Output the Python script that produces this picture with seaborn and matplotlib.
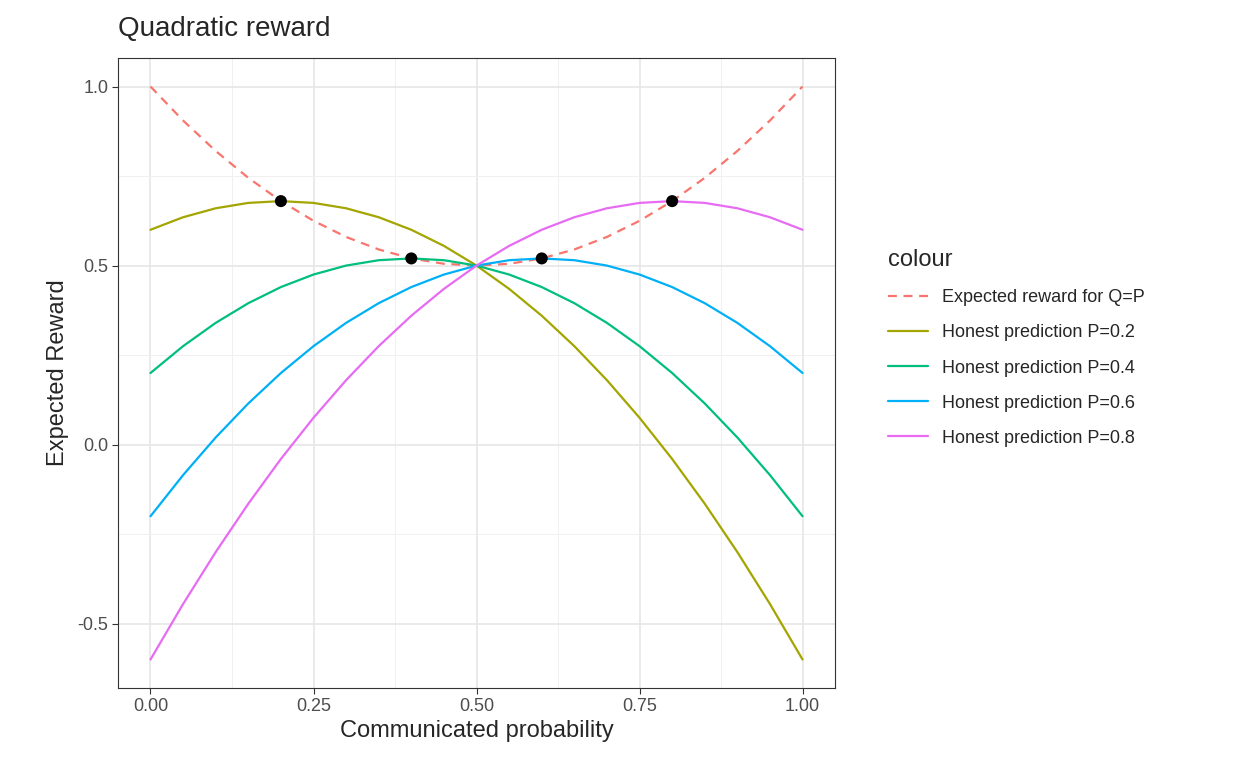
import matplotlib
matplotlib.use("Agg")
import matplotlib.pyplot as plt
import seaborn as sns
import pandas as pd
from matplotlib.lines import Line2D

q = [0, .05, .1, .15, .2, .25, .3, .35, .4, .45, .5, .55, .6, .65, .7, .75, .8, .85, .9, .95, 1]
diag = [1, .905, .82, .745, .68, .625, .58, .545, .52, .505, .5, .505, .52, .545, .58, .625, .68, .745, .82, .905, 1]
p02 = [.6, .635, .66, .675, .68, .675, .66, .635, .6, .555, .5, .435, .36, .275, .18, .075, -.04, -.165, -.3, -.445, -.6]
p04 = [.2, .275, .34, .395, .44, .475, .5, .515, .52, .515, .5, .475, .44, .395, .34, .275, .2, .115, .02, -.085, -.2]
p06 = [-.2, -.085, .02, .115, .2, .275, .34, .395, .44, .475, .5, .515, .52, .515, .5, .475, .44, .395, .34, .275, .2]
p08 = [-.6, -.445, -.3, -.165, -.04, .075, .18, .275, .36, .435, .5, .555, .6, .635, .66, .675, .68, .675, .66, .635, .6]
pts_x = [0.2, 0.4, 0.6, 0.8]
pts_y = [0.68, 0.52, 0.52, 0.68]

names = ["Expected reward for Q=P", "Honest prediction P=0.2", "Honest prediction P=0.4",
         "Honest prediction P=0.6", "Honest prediction P=0.8"]
colors = ["#F8766D", "#A3A500", "#00BF7D", "#00B0F6", "#E76BF3"]

rows = []
for n, ys in zip(names, [diag, p02, p04, p06, p08]):
    for x, y in zip(q, ys):
        rows.append((x, y, n))
df = pd.DataFrame(rows, columns=["x", "y", "series"])

sns.set_style("white", {"xtick.bottom": True, "ytick.left": True})
plt.rcParams['font.family'] = ['Liberation Sans', 'DejaVu Sans']
fig = plt.figure(figsize=(12.54, 7.82), dpi=100)
ax = fig.add_axes([0.094, 0.12, 0.572, 0.806])

sns.lineplot(data=df, x="x", y="y", hue="series", style="series", palette=dict(zip(names, colors)),
             dashes={names[0]: (4, 3), **{n: "" for n in names[1:]}}, lw=1.6, ax=ax, legend=False)
sns.scatterplot(x=pts_x, y=pts_y, color="black", s=75, zorder=5, ax=ax, edgecolor="none")

ax.set_xlim(-0.05, 1.05)
ax.set_ylim(-0.6 - 0.08, 1.0 + 0.08)
ax.set_xticks([0, .25, .5, .75, 1])
ax.set_xticklabels(["0.00", "0.25", "0.50", "0.75", "1.00"])
ax.set_yticks([-0.5, 0, 0.5, 1.0])
ax.set_yticklabels(["-0.5", "0.0", "0.5", "1.0"])
ax.set_xticks([.125, .375, .625, .875], minor=True)
ax.set_yticks([-0.25, 0.25, 0.75], minor=True)
ax.grid(True, which="major", color="#E6E6E6", lw=1.2)
ax.grid(True, which="minor", color="#F0F0F0", lw=0.7)
ax.set_axisbelow(True)
for s in ax.spines.values():
    s.set_color("#333333"); s.set_linewidth(0.8)
ax.tick_params(axis="both", which="major", length=4, width=0.8, color="#333333", labelsize=13, labelcolor="#4D4D4D", pad=3)
ax.tick_params(axis="both", which="minor", length=0)
ax.set_xlabel("Communicated probability", fontsize=17, labelpad=4)
ax.set_ylabel("Expected Reward", fontsize=17, labelpad=6)
ax.set_title("Quadratic reward", fontsize=20, loc="left", pad=16)

handles = [Line2D([], [], color=colors[0], ls=(0, (4, 3)), lw=1.6)] + \
          [Line2D([], [], color=c, lw=1.6) for c in colors[1:]]
fig.legend(handles, names, title="colour", loc="center left", bbox_to_anchor=(0.695, 0.555),
           frameon=False, fontsize=13, title_fontsize=17, handlelength=2.2, labelspacing=1.0,
           alignment="left")
fig.savefig("out.png", dpi=100)
